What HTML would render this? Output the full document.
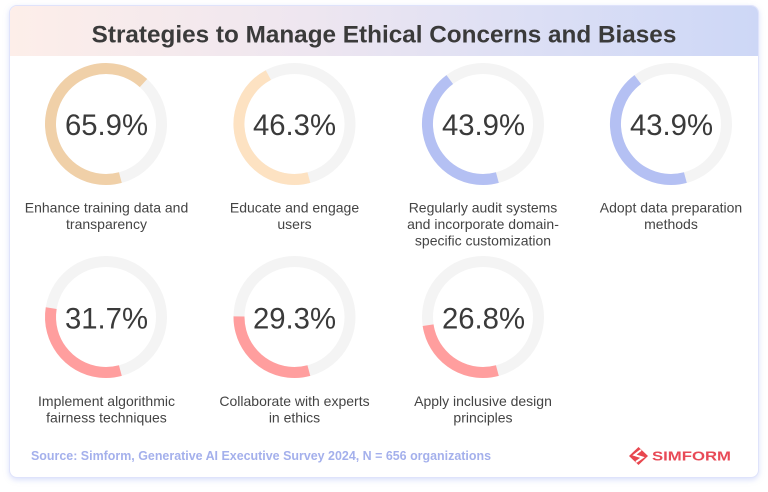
<!DOCTYPE html>
<html>
<head>
<meta charset="utf-8">
<style>
  html,body{margin:0;padding:0;background:#ffffff;}
  body{width:768px;height:492px;overflow:hidden;position:relative;}
  .card{position:absolute;left:9px;top:5px;width:748px;height:471px;border:1px solid #dfe3fb;border-radius:8px;background:#fff;box-shadow:0 2px 6px rgba(150,165,240,0.35);overflow:hidden;}
  .hdr{position:absolute;left:0;top:0;width:100%;height:50px;background:linear-gradient(90deg,#fdeee9 0%,#eee6f0 40%,#dcdff5 70%,#cdd7f6 100%);}
  svg{position:absolute;left:0;top:0;}
  text{font-family:"Liberation Sans",Arial,sans-serif;}
</style>
</head>
<body>
<div class="card"><div class="hdr"></div></div>
<svg width="768" height="492" viewBox="0 0 768 492">
  <text x="384" y="42.5" text-anchor="middle" font-size="24.3" font-weight="bold" fill="#3a3a3a">Strategies to Manage Ethical Concerns and Biases</text>

  <g fill="none" stroke-width="11">
    <!-- row 1 -->
    <circle cx="106" cy="124" r="55.5" stroke="#f4f4f4"/>
    <circle cx="106" cy="124" r="55.5" stroke="#f0d0a8" stroke-dasharray="229.81 400" transform="rotate(75 106 124)"/>
    <circle cx="294.5" cy="124" r="55.5" stroke="#f4f4f4"/>
    <circle cx="294.5" cy="124" r="55.5" stroke="#fde2c2" stroke-dasharray="161.46 400" transform="rotate(75 294.5 124)"/>
    <circle cx="483" cy="124" r="55.5" stroke="#f4f4f4"/>
    <circle cx="483" cy="124" r="55.5" stroke="#b4c0f3" stroke-dasharray="153.09 400" transform="rotate(75 483 124)"/>
    <circle cx="671" cy="124" r="55.5" stroke="#f4f4f4"/>
    <circle cx="671" cy="124" r="55.5" stroke="#b4c0f3" stroke-dasharray="153.09 400" transform="rotate(75 671 124)"/>
    <!-- row 2 -->
    <circle cx="106" cy="317" r="55.5" stroke="#f4f4f4"/>
    <circle cx="106" cy="317" r="55.5" stroke="#ff9e9e" stroke-dasharray="110.54 400" transform="rotate(75 106 317)"/>
    <circle cx="294.5" cy="317" r="55.5" stroke="#f4f4f4"/>
    <circle cx="294.5" cy="317" r="55.5" stroke="#ff9e9e" stroke-dasharray="102.17 400" transform="rotate(75 294.5 317)"/>
    <circle cx="483" cy="317" r="55.5" stroke="#f4f4f4"/>
    <circle cx="483" cy="317" r="55.5" stroke="#ff9e9e" stroke-dasharray="93.46 400" transform="rotate(75 483 317)"/>
  </g>

  <g font-size="29.3" fill="#3a3a3a" text-anchor="middle">
    <text x="106.5" y="135">65.9%</text>
    <text x="294.5" y="135">46.3%</text>
    <text x="483.5" y="135">43.9%</text>
    <text x="671.5" y="135">43.9%</text>
    <text x="106.5" y="328.5">31.7%</text>
    <text x="294.5" y="328.5">29.3%</text>
    <text x="483.5" y="328.5">26.8%</text>
  </g>

  <g font-size="14" fill="#444444" text-anchor="middle">
    <text x="106.5" y="212.5">Enhance training data and</text>
    <text x="106.5" y="229">transparency</text>
    <text x="294.5" y="212.5">Educate and engage</text>
    <text x="294.5" y="229">users</text>
    <text x="483" y="212.5">Regularly audit systems</text>
    <text x="483" y="229">and incorporate domain-</text>
    <text x="483" y="245.5">specific customization</text>
    <text x="671" y="212.5">Adopt data preparation</text>
    <text x="671" y="229">methods</text>
    <text x="106.5" y="406">Implement algorithmic</text>
    <text x="106.5" y="422.5">fairness techniques</text>
    <text x="294.5" y="406">Collaborate with experts</text>
    <text x="294.5" y="422.5">in ethics</text>
    <text x="483" y="406">Apply inclusive design</text>
    <text x="483" y="422.5">principles</text>
  </g>

  <text x="31" y="460" font-size="12.5" font-weight="bold" fill="#a4b0ec" textLength="460" lengthAdjust="spacingAndGlyphs">Source: Simform, Generative AI Executive Survey 2024, N = 656 organizations</text>

  <!-- Simform logo -->
  <g>
    <polygon points="629,456 638.5,447 648,456 638.5,465" fill="#e8474f"/>
    <polyline points="641,450 634.5,455 642.5,457.5 636,462" fill="none" stroke="#ffffff" stroke-width="2"/>
  </g>
  <text x="652" y="460.5" font-size="13" font-weight="bold" fill="#e84a57" textLength="79" lengthAdjust="spacingAndGlyphs">SIMFORM</text>
</svg>
</body>
</html>
